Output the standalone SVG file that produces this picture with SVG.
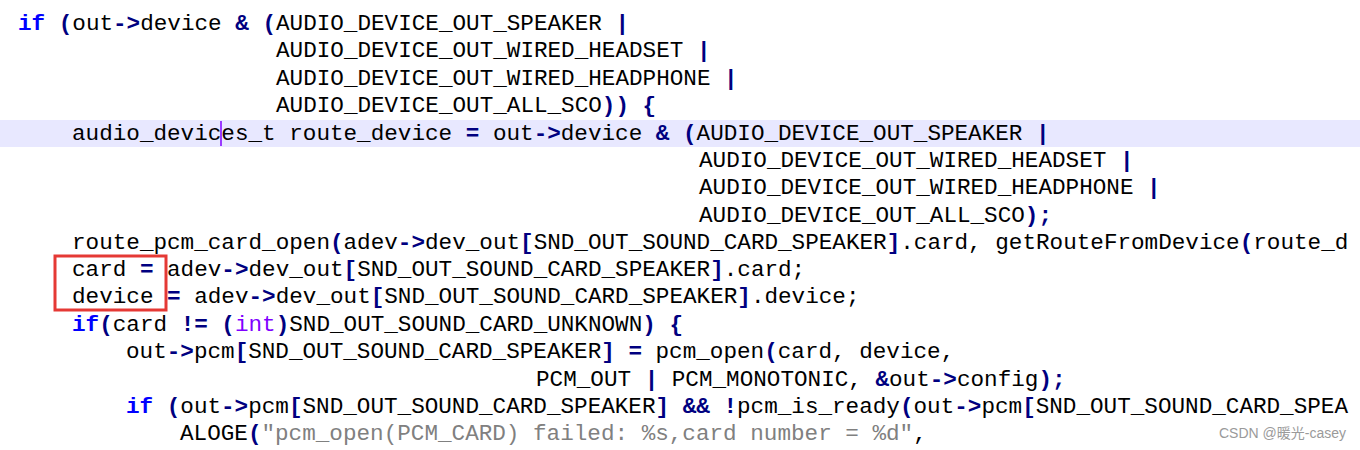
<svg xmlns="http://www.w3.org/2000/svg" width="1360" height="450" viewBox="0 0 1360 450">
<style>
text{font-family:"Liberation Mono","Courier New",monospace;font-size:22.64px;fill:#000;white-space:pre}
.k{fill:#0000ff;font-weight:bold}
.o{fill:#000080;font-weight:bold}
.t{fill:#8000ff}
.s{fill:#808080}
.wm{font-family:"Liberation Sans","Noto Sans CJK SC",sans-serif;font-size:14px;fill:#9a9a9a}
</style>
<rect width="1360" height="450" fill="#fff"/>
<rect x="0" y="120" width="1360" height="27" fill="#e8e8ff"/>
<line x1="221" y1="121" x2="221" y2="146" stroke="#8000ff" stroke-width="1.5"/>
<g id="code" xml:space="preserve">
<text x="18" y="30"><tspan class="k">if</tspan> <tspan class="o">(</tspan>out<tspan class="o">-&gt;</tspan>device <tspan class="o">&amp;</tspan> <tspan class="o">(</tspan>AUDIO_DEVICE_OUT_SPEAKER <tspan class="o">|</tspan></text>
<text x="276" y="57">AUDIO_DEVICE_OUT_WIRED_HEADSET <tspan class="o">|</tspan></text>
<text x="276" y="85">AUDIO_DEVICE_OUT_WIRED_HEADPHONE <tspan class="o">|</tspan></text>
<text x="276" y="112">AUDIO_DEVICE_OUT_ALL_SCO<tspan class="o">)) {</tspan></text>
<text x="72" y="140">audio_devices_t route_device <tspan class="o">=</tspan> out<tspan class="o">-&gt;</tspan>device <tspan class="o">&amp;</tspan> <tspan class="o">(</tspan>AUDIO_DEVICE_OUT_SPEAKER <tspan class="o">|</tspan></text>
<text x="699" y="167">AUDIO_DEVICE_OUT_WIRED_HEADSET <tspan class="o">|</tspan></text>
<text x="699" y="194">AUDIO_DEVICE_OUT_WIRED_HEADPHONE <tspan class="o">|</tspan></text>
<text x="699" y="222">AUDIO_DEVICE_OUT_ALL_SCO<tspan class="o">);</tspan></text>
<text x="72" y="249">route_pcm_card_open<tspan class="o">(</tspan>adev<tspan class="o">-&gt;</tspan>dev_out<tspan class="o">[</tspan>SND_OUT_SOUND_CARD_SPEAKER<tspan class="o">]</tspan>.card, getRouteFromDevice<tspan class="o">(</tspan>route_d</text>
<text x="72" y="276">card <tspan class="o">=</tspan> adev<tspan class="o">-&gt;</tspan>dev_out<tspan class="o">[</tspan>SND_OUT_SOUND_CARD_SPEAKER<tspan class="o">]</tspan>.card;</text>
<text x="72" y="303">device <tspan class="o">=</tspan> adev<tspan class="o">-&gt;</tspan>dev_out<tspan class="o">[</tspan>SND_OUT_SOUND_CARD_SPEAKER<tspan class="o">]</tspan>.device;</text>
<text x="72" y="331"><tspan class="k">if</tspan><tspan class="o">(</tspan>card <tspan class="o">!=</tspan> <tspan class="o">(</tspan><tspan class="t">int</tspan><tspan class="o">)</tspan>SND_OUT_SOUND_CARD_UNKNOWN<tspan class="o">) {</tspan></text>
<text x="126" y="358">out<tspan class="o">-&gt;</tspan>pcm<tspan class="o">[</tspan>SND_OUT_SOUND_CARD_SPEAKER<tspan class="o">]</tspan> <tspan class="o">=</tspan> pcm_open<tspan class="o">(</tspan>card, device,</text>
<text x="536" y="386">PCM_OUT <tspan class="o">|</tspan> PCM_MONOTONIC, <tspan class="o">&amp;</tspan>out<tspan class="o">-&gt;</tspan>config<tspan class="o">);</tspan></text>
<text x="126" y="413"><tspan class="k">if</tspan> <tspan class="o">(</tspan>out<tspan class="o">-&gt;</tspan>pcm<tspan class="o">[</tspan>SND_OUT_SOUND_CARD_SPEAKER<tspan class="o">]</tspan> <tspan class="o">&amp;&amp;</tspan> <tspan class="o">!</tspan>pcm_is_ready<tspan class="o">(</tspan>out<tspan class="o">-&gt;</tspan>pcm<tspan class="o">[</tspan>SND_OUT_SOUND_CARD_SPEA</text>
<text x="180" y="440">ALOGE<tspan class="o">(</tspan><tspan class="s">"pcm_open(PCM_CARD) failed: %s,card number = %d"</tspan>,</text>
</g>
<g id="highlight-box">
<rect x="55" y="256" width="111" height="54" fill="none" stroke="#e53935" stroke-width="3"/>
</g>
<rect x="1236" y="422" width="116" height="22" fill="#fff" fill-opacity="0.8"/>
<text class="wm" x="1346" y="438" text-anchor="end">CSDN @暖光-casey</text>
</svg>
